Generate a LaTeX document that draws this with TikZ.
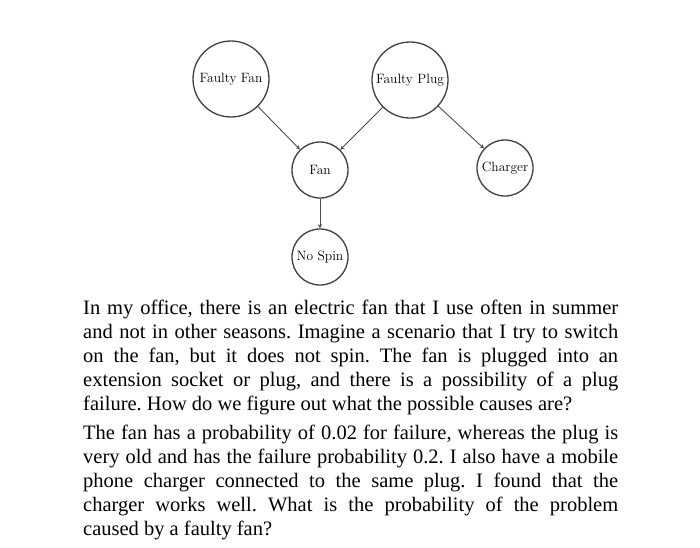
\documentclass[tikz,border=0pt]{standalone}
\usepackage{fontspec}
\newfontfamily\tnr{Liberation Serif}
\usetikzlibrary{positioning, arrows, calc}

\begin{document}
\begin{tikzpicture}[x=1pt, y=1pt,
		every node/.style={font=\fontsize{13.5}{15}\selectfont},
		event/.style={circle, draw=black!75, line width=1.3pt, inner sep=0pt},
		big/.style={event, minimum size=76pt},
		small/.style={event, minimum size=56pt},
		pointer/.style={-stealth, line width=0.9pt, draw=black!70}
		]
		\useasboundingbox (0,0) rectangle (700,-547);
		
		% Causes
		\node[big] (faultyfan) at (231,-79) {Faulty Fan};
		\node[big] (faultyplug) at (410,-80) {Faulty Plug};
		
		% Effects
		\node[small] (fan) at (320,-170) {Fan};
		\node[small] (charger) at (505,-168) {Charger};
		\node[small] (nospin) at (320,-257) {No Spin};
		
		% Links
		\draw[pointer] (faultyfan) -- (fan);
		\draw[pointer] (faultyplug) -- (fan);
		\draw[pointer] (faultyplug) -- (charger);
		\draw[pointer] (fan) -- (nospin);
		
		% Question text
		\node[anchor=north west, inner sep=0pt, text width=535pt, align=justify,
			font=\tnr\fontsize{20.5}{24}\selectfont\frenchspacing] (question) at (83,-300) {%
			In my office, there is an electric fan that I use often in summer\linebreak
			and not in other seasons. Imagine a scenario that I try to switch\linebreak
			on the fan, but it does not spin. The fan is plugged into an\linebreak
			extension socket or plug, and there is a possibility of a plug\linebreak
			failure. How do we figure out what the possible causes are?\par\vspace{5pt}
			The fan has a probability of 0.02 for failure, whereas the plug is\linebreak
			very old and has the failure probability 0.2. I also have a mobile\linebreak
			phone charger connected to the same plug. I found that the\linebreak
			charger works well. What is the probability of the problem\linebreak
			caused by a faulty fan?};
		
	\end{tikzpicture}
\end{document}
